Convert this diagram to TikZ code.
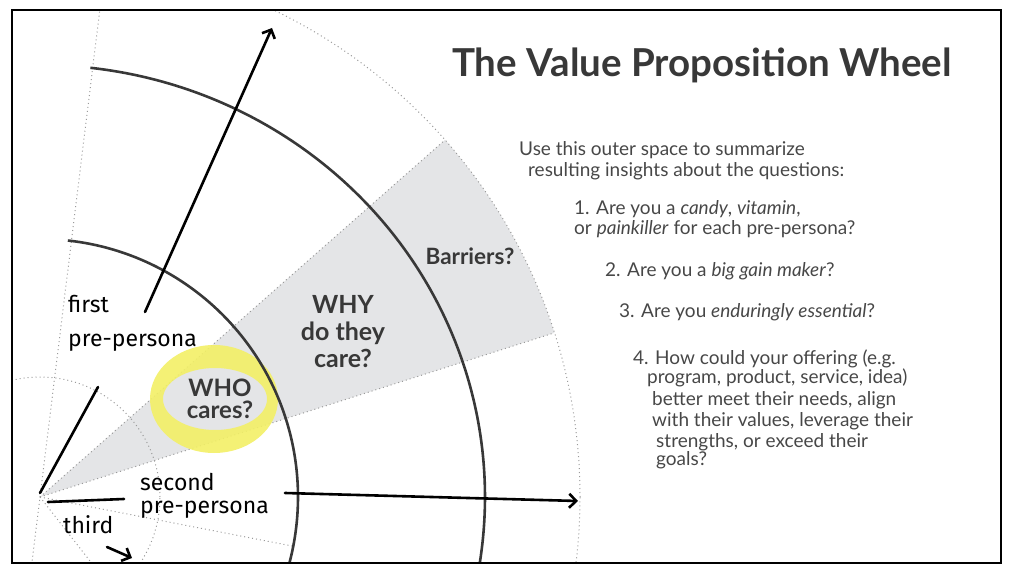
\documentclass[tikz,border=0pt]{standalone}
\usepackage{fontspec}
\setmainfont{Lato}
\newfontfamily\handfont{Fira Sans}
\usetikzlibrary{arrows.meta}
\definecolor{wedgegray}{HTML}{E4E5E7}
\definecolor{dotgray}{HTML}{9A9A9A}
\definecolor{inkgray}{HTML}{383838}
\definecolor{textgray}{HTML}{474747}
\definecolor{marker}{HTML}{F3F066}
\tikzset{
  ring/.style={draw=inkgray, line width=2.6pt},
  dotline/.style={draw=dotgray, line width=1pt, dash pattern=on 1pt off 3pt},
  hand/.style={line width=2.6pt, line cap=round, line join=round},
  handarrow/.style={hand, -{Straight Barb[length=7pt,width=14pt,line width=2.6pt]}},
  wlabel/.style={font=\bfseries\fontsize{25}{27}\selectfont, text=inkgray, align=center, inner sep=0pt},
  body/.style={font=\fontsize{19}{21}\selectfont, text=textgray, anchor=base west, inner sep=0pt},
  handtxt/.style={font=\handfont\fontsize{23}{26}\selectfont, anchor=base west, inner sep=0pt}
}
\begin{document}
\begin{tikzpicture}[x=1pt,y=1pt]
\useasboundingbox (0,0) rectangle (1013,574);
\begin{scope}
  \clip (12,11) rectangle (1001,564);
  \begin{scope}[shift={(40,77)}]
    \fill[wedgegray] (0,0) -- (17.7:540) arc[start angle=17.7, end angle=41.4, radius=540] -- cycle;
    \draw[dotline] (0,0) circle[radius=540];
    \draw[dotline] (0,0) circle[radius=120];
    \draw[dotline] (0,0) -- (17.7:540);
    \draw[dotline] (0,0) -- (41.4:540);
    \draw[dotline] (263:120) -- (83:600);
    \draw[dotline] (0,0) -- (-11:258);
    \draw[dotline] (0,0) -- (-52:258);
  \end{scope}
  \fill[marker, opacity=0.9, even odd rule] (214,175) ellipse[x radius=64, y radius=54] (215,175) ellipse[x radius=52, y radius=31];
  \begin{scope}[shift={(40,77)}]
    \draw[ring] (83.8:258) arc[start angle=83.8, end angle=-30, radius=258];
    \draw[ring] (83.5:445 and 432) arc[start angle=83.5, end angle=-30, x radius=445, y radius=432];
  \end{scope}
\end{scope}
\draw[line width=2pt] (12,11) rectangle (1001,564);

\node[anchor=base, font=\bfseries\fontsize{38.5}{40}\selectfont, text=inkgray, inner sep=0pt] (title) at (702,497) {The Value Proposition Wheel};

\node[body] (intro1) at (519,418) {Use this outer space to summarize};
\node[body] (intro2) at (528,397) {resulting insights about the questions:};
\node[body] (q1a) at (574,359) {1. Are you a \textit{candy}, \textit{vitamin},};
\node[body] (q1b) at (574,339) {or \textit{painkiller} for each pre-persona?};
\node[body] (q2) at (605,297) {2. Are you a \textit{big gain maker}?};
\node[body] (q3) at (619,256) {3. Are you \textit{enduringly essential}?};
\node[body] (q4a) at (633,210) {4. How could your offering (e.g.};
\node[body] (q4b) at (647,190) {program, product, service, idea)};
\node[body] (q4c) at (652,169) {better meet their needs, align};
\node[body] (q4d) at (652,148) {with their values, leverage their};
\node[body] (q4e) at (656,127) {strengths, or exceed their};
\node[body] (q4f) at (656,109) {goals?};

\node[wlabel, font=\bfseries\fontsize{22.5}{24}\selectfont] (barriers) at (470,318) {Barriers?};
\node[wlabel] (why) at (343,242) {WHY\\do they\\care?};
\node[wlabel, font=\bfseries\fontsize{24}{22}\selectfont] (who) at (220,175) {WHO\\cares?};

\node[handtxt] (first) at (68,261) {first};
\node[handtxt] (firstpp) at (68,227) {pre-persona};
\node[handtxt] (second) at (140,84) {second};
\node[handtxt] (secondpp) at (140,61) {pre-persona};
\node[handtxt] (third) at (63,41) {third};

\coordinate (a1s) at (145,262);
\coordinate (a1e) at (272,546);
\coordinate (l2s) at (40,81);
\coordinate (l2e) at (98,187);
\coordinate (l3s) at (48,72);
\coordinate (l3e) at (124,75);
\coordinate (a4s) at (285,81);
\coordinate (a4e) at (578,73);
\coordinate (a5s) at (107,27);
\coordinate (a5e) at (132,16);

\draw[handarrow] (a1s) -- (a1e);
\draw[hand] (l2s) -- (l2e);
\draw[hand] (l3s) -- (l3e);
\draw[handarrow] (a4s) -- (a4e);
\draw[handarrow] (a5s) -- (a5e);
\end{tikzpicture}
\end{document}
